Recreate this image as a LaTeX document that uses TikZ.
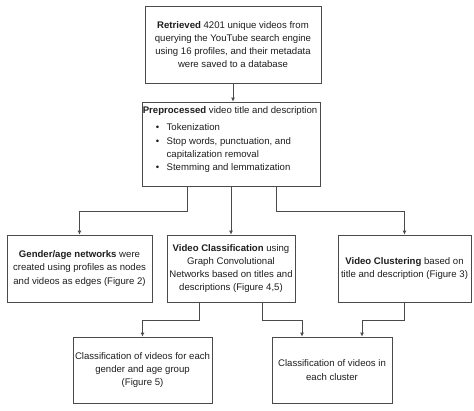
\documentclass[tikz,border=0pt]{standalone}
\usepackage{fontspec}
\setmainfont{Liberation Sans}
\usetikzlibrary{arrows.meta}
\definecolor{linec}{HTML}{4A4A4A}
\definecolor{txtc}{HTML}{1E1E1E}
\begin{document}
\begin{tikzpicture}[x=1pt,y=1pt,
  font=\fontsize{9.6}{13.2}\selectfont,
  box/.style={draw=linec, line width=0.8pt, fill=white, align=center, inner sep=1pt, text=txtc},
  arr/.style={draw=linec, line width=0.8pt, -{Latex[length=4pt,width=4pt]}},
]
\useasboundingbox (0,0) rectangle (474,-410);

\node[box, minimum width=176pt, minimum height=77pt] (b1) at (233,-44.5)
  {\textbf{Retrieved} 4201 unique videos from\\querying the YouTube search engine\\using 16 profiles, and their metadata\\were saved to a database};

\node[box, minimum width=178pt, minimum height=84pt] (b2) at (231,-144) {};
\node[anchor=north west, align=left, inner sep=0pt, text=txtc] (b2t) at ([xshift=1pt,yshift=-5pt]b2.north west)
  {\textbf{Preprocessed} video title and description\\[5pt]
   \hspace*{13pt}\begin{tabular}{@{}l@{\hspace{7.5pt}}l@{}}
   \textbullet & Tokenization\\
   \textbullet & Stop words, punctuation, and\\
               & capitalization removal\\
   \textbullet & Stemming and lemmatization
   \end{tabular}};

\node[box, minimum width=145pt, minimum height=67pt] (g) at (79.5,-268.5)
  {\textbf{Gender/age networks} were\\created using profiles as nodes\\and videos as edges (Figure 2)};
\node[box, minimum width=128pt, minimum height=67pt] (vc) at (231,-268.5)
  {\textbf{Video Classification} using\\Graph Convolutional\\Networks based on titles and\\descriptions (Figure 4,5)};
\node[box, minimum width=133pt, minimum height=67pt] (cl) at (404.5,-268.5)
  {\textbf{Video Clustering} based on\\title and description (Figure 3)};

\node[box, minimum width=139pt, minimum height=66pt] (bl) at (142.5,-370)
  {Classification of videos for each\\gender and age group\\(Figure 5)};
\node[box, minimum width=120pt, minimum height=66pt] (br) at (332,-370)
  {Classification of videos in\\each cluster};

\draw[arr] (b1.south) -- (b1.south |- b2.north);
\draw[arr] ([xshift=-44pt]b2.south) -- ++(0,-25) -| (g.north);
\draw[arr] (b2.south) -- (vc.north);
\draw[arr] ([xshift=45pt]b2.south) -- ++(0,-25) -| (cl.north);
\draw[arr] ([xshift=-32pt]vc.south) -- ++(0,-18) -| (bl.north);
\draw[arr] ([xshift=31pt]vc.south) -- ++(0,-18) -| ([xshift=-30pt]br.north);
\draw[arr] (cl.south) -- ++(0,-18) -| ([xshift=30pt]br.north);
\end{tikzpicture}
\end{document}
